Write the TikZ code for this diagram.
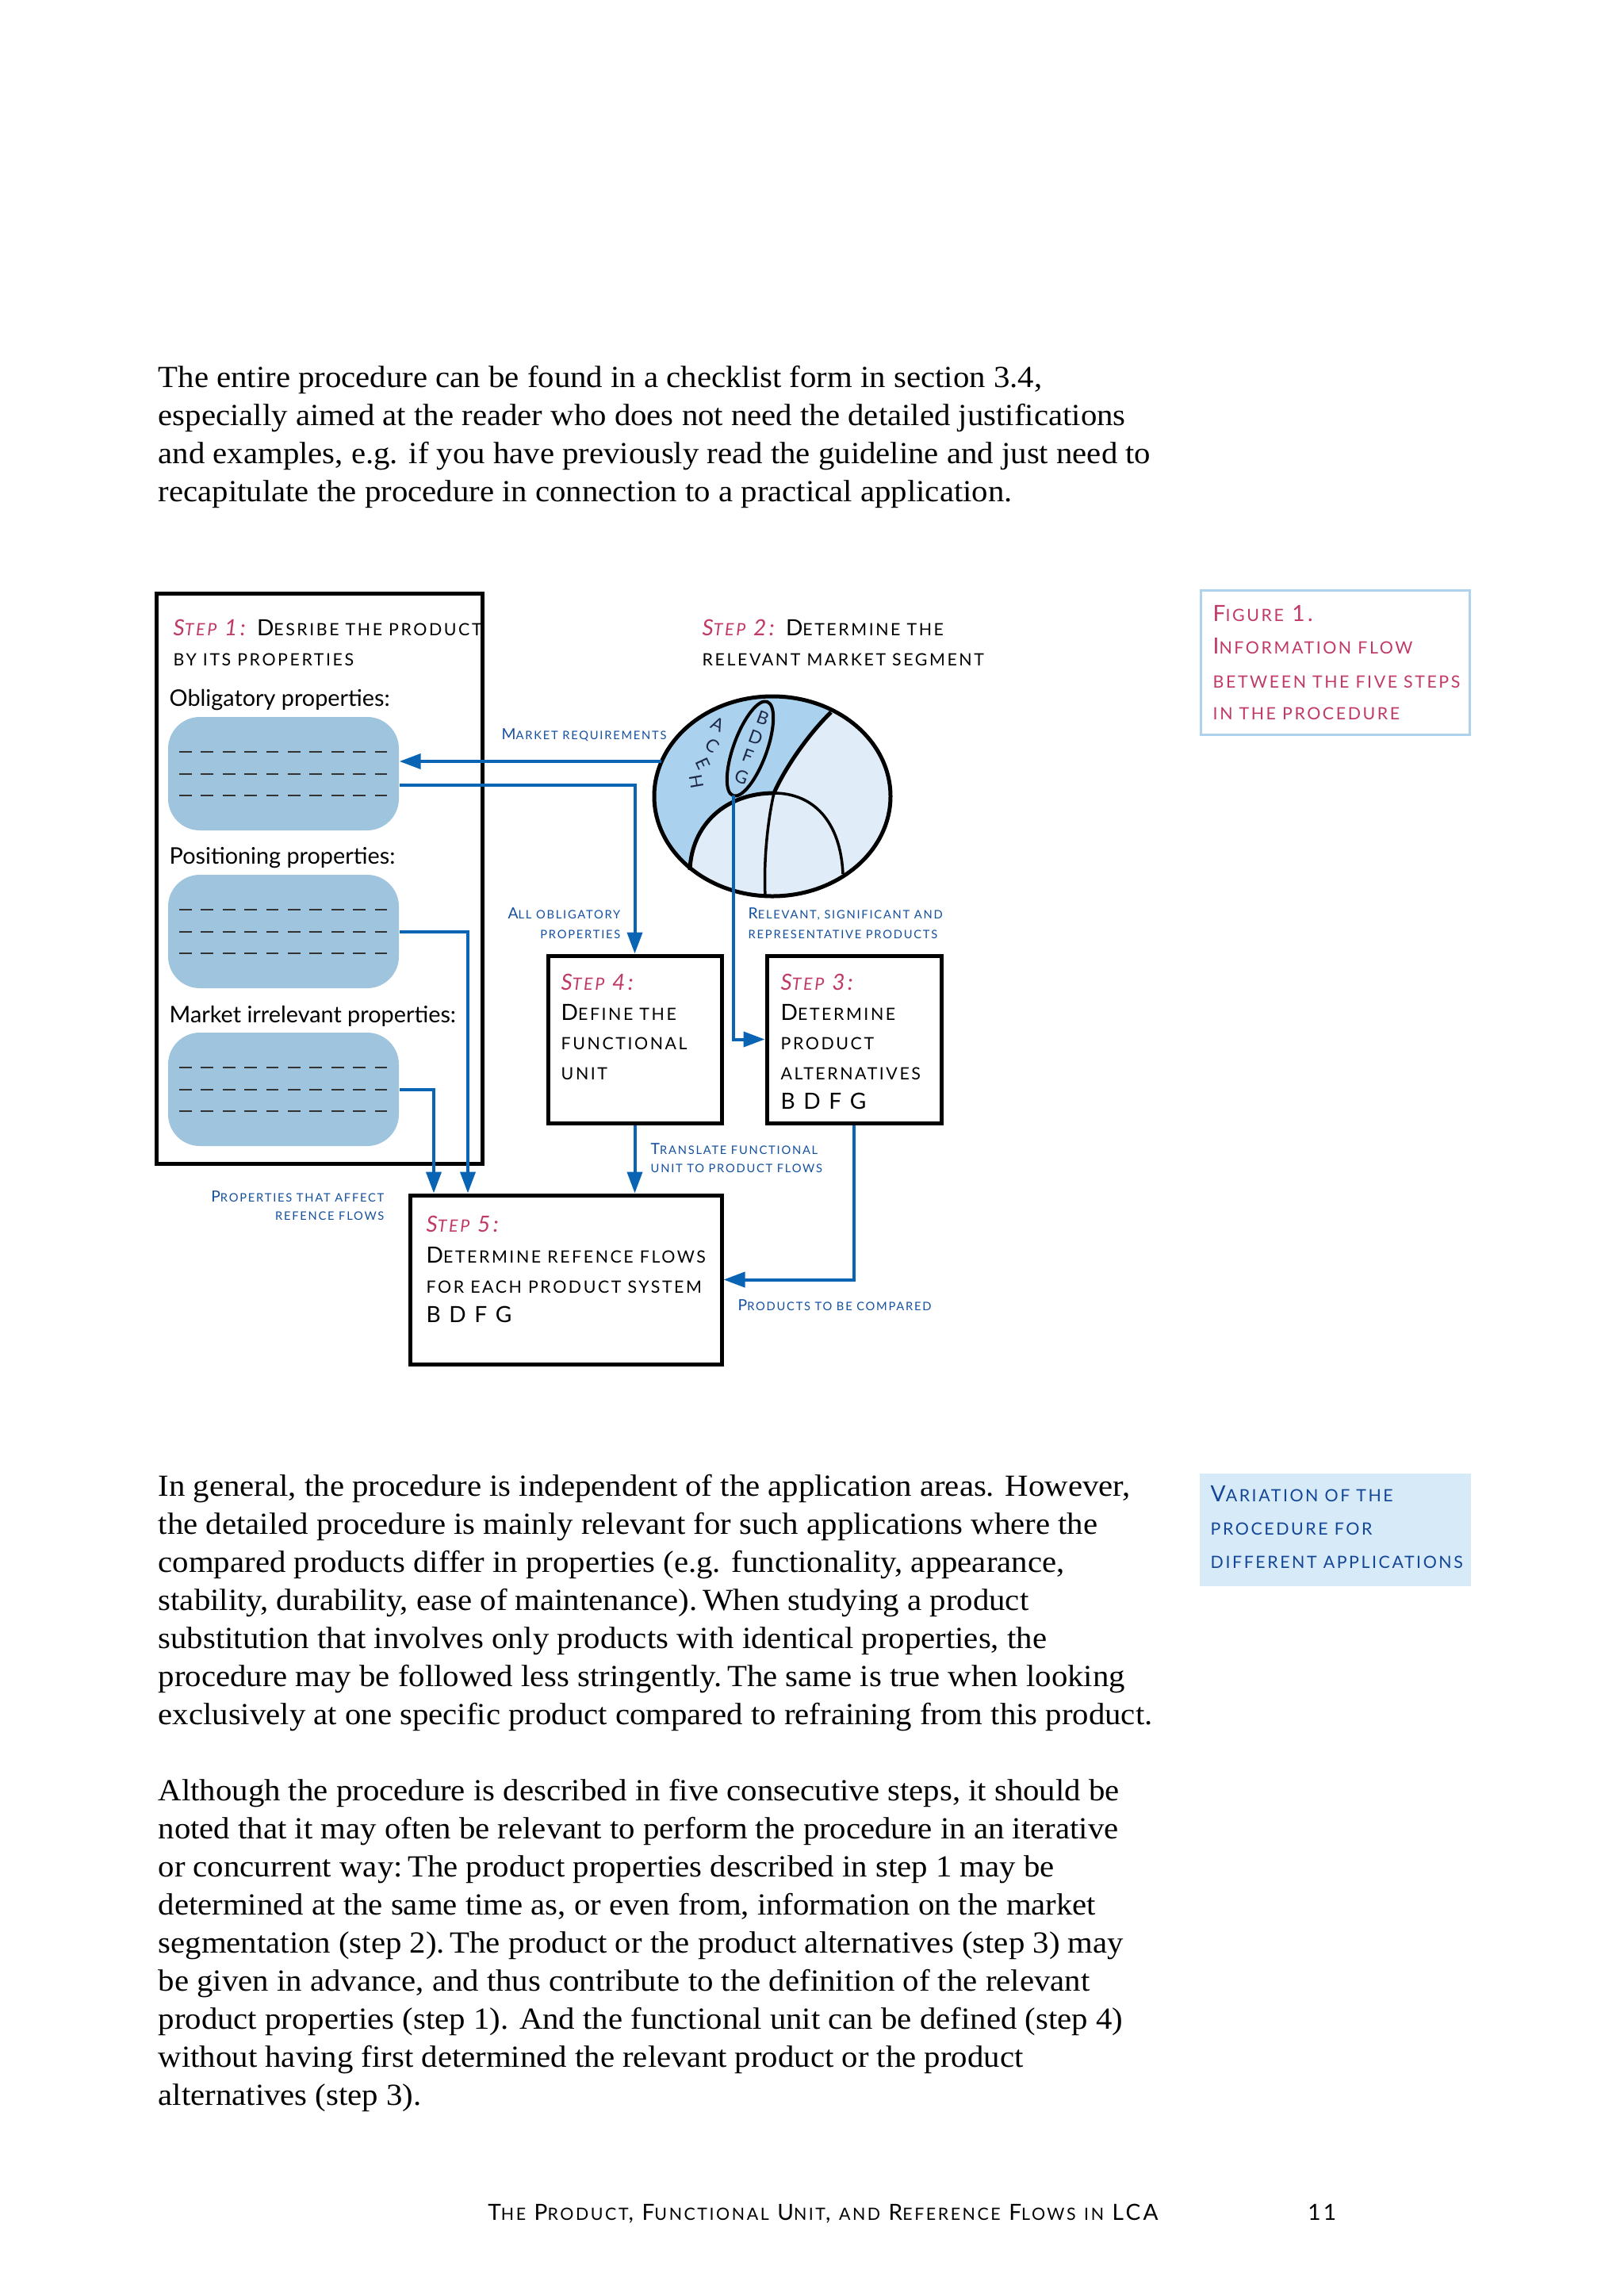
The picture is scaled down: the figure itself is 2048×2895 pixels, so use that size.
\documentclass[tikz,border=0pt]{standalone}
\usepackage{fontspec}
\setmainfont{Liberation Serif}[FakeStretch=1.055]
\newfontfamily\dsans[LetterSpace=12]{Lato}
\newfontfamily\dsansn{Lato}
\usetikzlibrary{arrows.meta}
\definecolor{stepred}{RGB}{192,58,104}
\definecolor{cblue}{RGB}{10,100,180}
\definecolor{lblue}{RGB}{20,80,160}
\definecolor{boxfill}{RGB}{158,196,222}
\definecolor{segdark}{RGB}{170,210,238}
\definecolor{seglight}{RGB}{224,237,249}
\definecolor{capborder}{RGB}{172,210,238}
\definecolor{varfill}{RGB}{214,234,248}
\definecolor{vartext}{RGB}{20,70,150}
\definecolor{lettc}{RGB}{30,40,70}
\makeatletter
\newcommand\lc[1]{{\fontsize{\dimexpr\f@size pt*76/100\relax}{0pt}\selectfont\MakeUppercase{#1}}}
\makeatother
\newcommand\stp[1]{{\color{stepred}\itshape S\lc{tep} #1:}}
\begin{document}
\begin{tikzpicture}[x=0.1mm,y=-0.1mm,
  body/.style={anchor=base west, inner sep=0, font=\fontsize{11}{12}\selectfont},
  dt/.style={anchor=base west, inner sep=0, font=\dsans\fontsize{8}{8}\selectfont},
  lab/.style={anchor=base west, inner sep=0, text=lblue, font=\dsans\fontsize{5.5}{5.5}\selectfont},
  labr/.style={lab, anchor=base east},
  reg/.style={anchor=base west, inner sep=0, font=\dsansn\fontsize{8.2}{8.2}\selectfont},
  lett/.style={inner sep=0, text=lettc, font=\dsansn\fontsize{6.4}{6.4}\selectfont},
  stepbox/.style={draw=black, line width=0.5mm, inner sep=0},
  pbox/.style={fill=boxfill, rounded corners=4mm, inner sep=0, minimum width=29.1mm, minimum height=14.3mm},
  conn/.style={draw=cblue, line width=0.4mm},
  arr/.style={conn, -{Triangle[length=2.7mm,width=1.9mm]}},
  dashrow/.style={draw=black!80, line width=0.2mm, dash pattern=on 1.57mm off 1.17mm},
  segline/.style={draw=black, line width=0.5mm},
  segthin/.style={draw=black, line width=0.35mm}]
\useasboundingbox (0,0) rectangle (2048,2895);
\fill[white] (0,0) rectangle (2048,2895);

% ---------- body text ----------
\node[body] (p1a) at (199,488) {The entire procedure can be found in a checklist form in section 3.4,};
\node[body] (p1b) at (199,536) {especially aimed at the reader who does not need the detailed justifications};
\node[body] (p1c) at (199,584) {and examples, e.g. if you have previously read the guideline and just need to};
\node[body] (p1d) at (199,632) {recapitulate the procedure in connection to a practical application.};

\node[body] (p2a) at (199,1886) {In general, the procedure is independent of the application areas. However,};
\node[body] (p2b) at (199,1934) {the detailed procedure is mainly relevant for such applications where the};
\node[body] (p2c) at (199,1982) {compared products differ in properties (e.g. functionality, appearance,};
\node[body] (p2d) at (199,2030) {stability, durability, ease of maintenance).\,When studying a product};
\node[body] (p2e) at (199,2078) {substitution that involves only products with identical properties, the};
\node[body] (p2f) at (199,2126) {procedure may be followed less stringently.\,The same is true when looking};
\node[body] (p2g) at (199,2174) {exclusively at one specific product compared to refraining from this product.};

\node[body] (p3a) at (199,2270) {Although the procedure is described in five consecutive steps, it should be};
\node[body] (p3b) at (199,2318) {noted that it may often be relevant to perform the procedure in an iterative};
\node[body] (p3c) at (199,2366) {or concurrent way:\,The product properties described in step 1 may be};
\node[body] (p3d) at (199,2414) {determined at the same time as, or even from, information on the market};
\node[body] (p3e) at (199,2462) {segmentation (step 2).\,The product or the product alternatives (step 3) may};
\node[body] (p3f) at (199,2510) {be given in advance, and thus contribute to the definition of the relevant};
\node[body] (p3g) at (199,2558) {product properties (step 1). And the functional unit can be defined (step 4)};
\node[body] (p3h) at (199,2606) {without having first determined the relevant product or the product};
\node[body] (p3i) at (199,2654) {alternatives (step 3).};

% ---------- footer ----------
\node[dt, anchor=base] (foot) at (1038,2799) {T\lc{he} P\lc{roduct}, F\lc{unctional} U\lc{nit}, \lc{and} R\lc{eference} F\lc{lows} \lc{in} LCA};
\node[dt, anchor=base east] (pgno) at (1686,2799) {11};

% ---------- side boxes ----------
\node[draw=capborder, line width=0.3mm, inner sep=0, minimum width=33.9mm, minimum height=18.2mm] (cap) at (1683.5,835) {};
\node[dt, text=stepred] (c1) at (1529,783) {F\lc{igure} 1.};
\node[dt, text=stepred] (c2) at (1529,824) {I\lc{nformation flow}};
\node[dt, text=stepred] (c3) at (1529,867) {\lc{between the five steps}};
\node[dt, text=stepred] (c4) at (1529,907) {\lc{in the procedure}};

\node[fill=varfill, inner sep=0, minimum width=34.2mm, minimum height=14.2mm] (var) at (1684,1929) {};
\node[dt, text=vartext] (v1) at (1526,1893) {V\lc{ariation of the}};
\node[dt, text=vartext] (v2) at (1526,1935) {\lc{procedure for}};
\node[dt, text=vartext] (v3) at (1526,1977) {\lc{different applications}};

% ---------- step 1 ----------
\node[stepbox, minimum width=41.1mm, minimum height=71.9mm] (s1) at (402.5,1107.5) {};
\node[dt] (t1a) at (218,801) {\stp{1} D\lc{esribe the product}};
\node[dt] (t1b) at (218,839) {\lc{by its properties}};
\node[reg] (t1c) at (213,890) {Obligatory properties:};
\node[reg] (t1d) at (213,1089) {Positioning properties:};
\node[reg] (t1e) at (213,1289) {Market irrelevant properties:};
\node[pbox] (ob) at (357.5,975.5) {};
\node[pbox] (pp) at (357.5,1174.5) {};
\node[pbox] (mi) at (357.5,1373.5) {};
\foreach \t in {904,1103,1302}{
  \foreach \d in {44,72,99}{
    \draw[dashrow] (226,\t+\d) -- (490,\t+\d);
  }
}

% ---------- step 2 ----------
\node[dt] (t2a) at (885,801) {\stp{2} D\lc{etermine the}};
\node[dt] (t2b) at (885,839) {\lc{relevant market segment}};
\fill[seglight] (974,1004) ellipse [x radius=149, y radius=126];
\begin{scope}
  \clip (974,1004) ellipse [x radius=149, y radius=126];
  \fill[segdark] (850,1110) -- (870,1097) .. controls (872,1040) and (915,1000) .. (976,1000)
     .. controls (990,968) and (1020,925) .. (1048,898) -- (1075,855) -- (800,840) -- (800,1110) -- cycle;
\end{scope}
\draw[segthin] (976,1000) .. controls (1025,1000) and (1060,1035) .. (1063,1102);
\draw[segthin] (976,1000) .. controls (967,1040) and (963,1090) .. (965,1130);
\draw[segline] (870,1097) .. controls (872,1040) and (915,1000) .. (976,1000)
     .. controls (990,968) and (1020,925) .. (1048,898);
\draw[segline] (974,1004) ellipse [x radius=149, y radius=126];
\draw[segthin, line width=0.4mm, rotate around={70:(946,944)}] (946,944) ellipse [x radius=63, y radius=21];
\node[lett, rotate=-20] (lB) at (962,905) {B};
\node[lett, rotate=-20] (lD) at (953,930) {D};
\node[lett, rotate=-20] (lF) at (943,953) {F};
\node[lett, rotate=-20] (lG) at (935,980) {G};
\node[lett, rotate=-25] (lA) at (905,913) {A};
\node[lett, rotate=-40] (lC) at (898,940) {C};
\node[lett, rotate=-65] (lE) at (887,963) {E};
\node[lett, rotate=-80] (lH) at (878,986) {H};
\coordinate (ellW) at (834,960);
\coordinate (rel) at (925,1003);

% ---------- steps 4, 3, 5 ----------
\node[stepbox, minimum width=21.9mm, minimum height=21.1mm] (s4) at (800.5,1310.5) {};
\node[stepbox, minimum width=22.0mm, minimum height=21.1mm] (s3) at (1077,1310.5) {};
\node[stepbox, minimum width=39.3mm, minimum height=21.3mm] (s5) at (713.5,1613.5) {};
\node[dt] (t4a) at (707,1248) {\stp{4}};
\node[dt] (t4b) at (707,1286) {D\lc{efine the}};
\node[dt] (t4c) at (707,1323) {\lc{functional}};
\node[dt] (t4d) at (707,1361) {\lc{unit}};
\node[dt] (t3a) at (984,1248) {\stp{3}};
\node[dt] (t3b) at (984,1286) {D\lc{etermine}};
\node[dt] (t3c) at (984,1323) {\lc{product}};
\node[dt] (t3d) at (984,1361) {\lc{alternatives}};
\node[dt] (t3e) at (984,1398) {B D F G};
\node[dt] (t5a) at (537,1553) {\stp{5}};
\node[dt] (t5b) at (537,1592) {D\lc{etermine refence flows}};
\node[dt] (t5c) at (537,1630) {\lc{for each product system}};
\node[dt] (t5d) at (537,1667) {B D F G};

% ---------- connectors ----------
\coordinate (x590) at (590,0);
\coordinate (x547) at (547,0);
\draw[arr] (ellW) -- (ellW -| ob.east);
\draw[arr] ([yshift=-1.45mm]ob.east) -| (s4.north);
\draw[arr] (pp.east) -| (x590 |- s5.north);
\draw[arr] (mi.east) -| (x547 |- s5.north);
\draw[arr] (rel) |- (s3.west);
\draw[arr] (s4.south) -- (s4.south |- s5.north);
\draw[arr] (s3.south) |- (s5.east);

% ---------- labels ----------
\node[lab] (lmr) at (632,932) {M\lc{arket requirements}};
\node[labr] (lao1) at (783,1158) {A\lc{ll obligatory}};
\node[labr] (lao2) at (783,1183) {\lc{properties}};
\node[lab] (lrs1) at (943,1158) {R\lc{elevant, significant and}};
\node[lab] (lrs2) at (943,1183) {\lc{representative products}};
\node[lab] (ltf1) at (820,1455) {T\lc{ranslate functional}};
\node[lab] (ltf2) at (820,1478) {\lc{unit to product flows}};
\node[lab] (lpc) at (930,1652) {P\lc{roducts to be compared}};
\node[labr] (lpa1) at (485,1515) {P\lc{roperties that affect}};
\node[labr] (lpa2) at (485,1538) {\lc{refence flows}};
\end{tikzpicture}
\end{document}
